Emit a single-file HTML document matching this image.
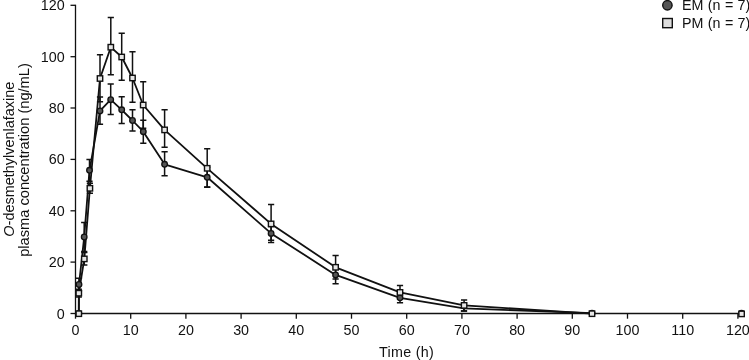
<!DOCTYPE html>
<html><head><meta charset="utf-8"><title>Plasma concentration</title>
<style>html,body{margin:0;padding:0;background:#fff;}svg{display:block;font-family:"Liberation Sans",Arial,Helvetica,sans-serif;font-size:14.3px;fill:#111;}</style></head><body>
<svg width="749" height="360" viewBox="0 0 749 360">
<rect width="749" height="360" fill="#fff"/>
<g stroke="#111" stroke-width="1.3" fill="none">
<path d="M75.5 4.7V313.5H738.5"/>
<path d="M70.5 313.5H75.5"/>
<path d="M70.5 262.1H75.5"/>
<path d="M70.5 210.8H75.5"/>
<path d="M70.5 159.4H75.5"/>
<path d="M70.5 108.0H75.5"/>
<path d="M70.5 56.7H75.5"/>
<path d="M70.5 5.3H75.5"/>
<path d="M75.5 313.5V318.7"/>
<path d="M130.7 313.5V318.7"/>
<path d="M185.9 313.5V318.7"/>
<path d="M241.1 313.5V318.7"/>
<path d="M296.3 313.5V318.7"/>
<path d="M351.5 313.5V318.7"/>
<path d="M406.7 313.5V318.7"/>
<path d="M461.9 313.5V318.7"/>
<path d="M517.1 313.5V318.7"/>
<path d="M572.3 313.5V318.7"/>
<path d="M627.5 313.5V318.7"/>
<path d="M682.7 313.5V318.7"/>
<path d="M737.9 313.5V318.7"/>
</g>
<g text-anchor="end">
<text x="64.6" y="318.5">0</text>
<text x="64.6" y="267.1">20</text>
<text x="64.6" y="215.8">40</text>
<text x="64.6" y="164.4">60</text>
<text x="64.6" y="113.0">80</text>
<text x="64.6" y="61.7">100</text>
<text x="64.6" y="10.3">120</text>
</g><g text-anchor="middle">
<text x="75.5" y="335.2">0</text>
<text x="130.7" y="335.2">10</text>
<text x="185.9" y="335.2">20</text>
<text x="241.1" y="335.2">30</text>
<text x="296.3" y="335.2">40</text>
<text x="351.5" y="335.2">50</text>
<text x="406.7" y="335.2">60</text>
<text x="461.9" y="335.2">70</text>
<text x="517.1" y="335.2">80</text>
<text x="572.3" y="335.2">90</text>
<text x="627.5" y="335.2">100</text>
<text x="682.7" y="335.2">110</text>
<text x="737.9" y="335.2">120</text>
<text x="406.6" y="356.8" letter-spacing="0.3">Time (h)</text>
</g>
<g text-anchor="middle">
<text transform="translate(13.6 159.2) rotate(-90)" font-size="14.45"><tspan font-style="italic">O</tspan>-desmethylvenlafaxine</text>
<text transform="translate(29.4 160) rotate(-90)" font-size="14.65">plasma concentration (ng/mL)</text>
</g>
<g stroke="#111" stroke-width="1.5" fill="none">
<path d="M78.8 289.2V297.0M75.7 289.2h6.2M75.7 297.0h6.2"/>
<path d="M84.3 252.6V265.0M81.2 252.6h6.2M81.2 265.0h6.2"/>
<path d="M89.9 183.3V193.3M86.8 183.3h6.2M86.8 193.3h6.2"/>
<path d="M100.0 54.7V101.8M96.9 54.7h6.2M96.9 101.8h6.2"/>
<path d="M110.8 17.6V74.7M107.7 17.6h6.2M107.7 74.7h6.2"/>
<path d="M121.7 33.3V80.3M118.6 33.3h6.2M118.6 80.3h6.2"/>
<path d="M132.5 51.8V102.2M129.4 51.8h6.2M129.4 102.2h6.2"/>
<path d="M143.2 81.7V128.3M140.1 81.7h6.2M140.1 128.3h6.2"/>
<path d="M164.6 109.7V147.3M161.5 109.7h6.2M161.5 147.3h6.2"/>
<path d="M207.2 148.8V187.0M204.1 148.8h6.2M204.1 187.0h6.2"/>
<path d="M271.1 204.6V242.6M268.0 204.6h6.2M268.0 242.6h6.2"/>
<path d="M335.6 255.6V279.0M332.5 255.6h6.2M332.5 279.0h6.2"/>
<path d="M400.0 285.6V299.0M396.9 285.6h6.2M396.9 299.0h6.2"/>
<path d="M464.1 300.1V310.9M461.0 300.1h6.2M461.0 310.9h6.2"/>
</g>
<g stroke="#111" stroke-width="1.5" fill="none">
<path d="M79.0 278.3V290.7M75.9 278.3h6.2M75.9 290.7h6.2"/>
<path d="M84.2 222.5V251.5M81.1 222.5h6.2M81.1 251.5h6.2"/>
<path d="M89.5 159.5V181.2M86.4 159.5h6.2M86.4 181.2h6.2"/>
<path d="M100.0 96.9V124.2M96.9 96.9h6.2M96.9 124.2h6.2"/>
<path d="M110.7 83.9V114.5M107.6 83.9h6.2M107.6 114.5h6.2"/>
<path d="M121.7 96.7V123.6M118.6 96.7h6.2M118.6 123.6h6.2"/>
<path d="M132.5 109.7V131.0M129.4 109.7h6.2M129.4 131.0h6.2"/>
<path d="M143.3 120.3V143.3M140.2 120.3h6.2M140.2 143.3h6.2"/>
<path d="M164.6 151.7V175.8M161.5 151.7h6.2M161.5 175.8h6.2"/>
<path d="M207.2 167.3V187.3M204.1 167.3h6.2M204.1 187.3h6.2"/>
<path d="M271.1 226.5V240.3M268.0 226.5h6.2M268.0 240.3h6.2"/>
<path d="M335.6 266.0V283.8M332.5 266.0h6.2M332.5 283.8h6.2"/>
<path d="M400.0 293.0V302.7M396.9 293.0h6.2M396.9 302.7h6.2"/>
<path d="M463.9 304.0V310.9M460.8 304.0h6.2M460.8 310.9h6.2"/>
</g>
<polyline fill="none" stroke="#111" stroke-width="1.8" stroke-linejoin="round" points="78.8,313.5 79.0,284.5 84.2,237.0 89.5,170.3 100.0,110.9 110.7,99.7 121.7,109.8 132.5,120.5 143.3,131.7 164.6,164.3 207.2,177.3 271.1,233.4 335.6,274.9 400.0,297.8 463.9,308.3 592.0,313.2"/>
<polyline fill="none" stroke="#111" stroke-width="1.8" stroke-linejoin="round" points="78.8,313.7 78.8,293.2 84.3,258.9 89.9,188.3 100.0,78.5 110.8,47.2 121.7,57.0 132.5,78.0 143.2,105.0 164.6,129.9 207.2,168.3 271.1,223.9 335.6,267.3 400.0,292.4 464.1,305.4 592.0,313.7"/>
<g fill="#555" stroke="#111" stroke-width="1.3">
<circle cx="78.8" cy="313.5" r="2.8"/>
<circle cx="79.0" cy="284.5" r="2.8"/>
<circle cx="84.2" cy="237.0" r="2.8"/>
<circle cx="89.5" cy="170.3" r="2.8"/>
<circle cx="100.0" cy="110.9" r="2.8"/>
<circle cx="110.7" cy="99.7" r="2.8"/>
<circle cx="121.7" cy="109.8" r="2.8"/>
<circle cx="132.5" cy="120.5" r="2.8"/>
<circle cx="143.3" cy="131.7" r="2.8"/>
<circle cx="164.6" cy="164.3" r="2.8"/>
<circle cx="207.2" cy="177.3" r="2.8"/>
<circle cx="271.1" cy="233.4" r="2.8"/>
<circle cx="335.6" cy="274.9" r="2.8"/>
<circle cx="400.0" cy="297.8" r="2.8"/>
<circle cx="592.0" cy="313.2" r="2.8"/>
<circle cx="741.5" cy="313.2" r="2.8"/>
</g>
<g fill="#e6e6e6" stroke="#111" stroke-width="1.4">
<rect x="76.1" y="311.0" width="5.4" height="5.4"/>
<rect x="76.1" y="290.5" width="5.4" height="5.4"/>
<rect x="81.6" y="256.2" width="5.4" height="5.4"/>
<rect x="87.2" y="185.6" width="5.4" height="5.4"/>
<rect x="97.3" y="75.8" width="5.4" height="5.4"/>
<rect x="108.1" y="44.5" width="5.4" height="5.4"/>
<rect x="119.0" y="54.3" width="5.4" height="5.4"/>
<rect x="129.8" y="75.3" width="5.4" height="5.4"/>
<rect x="140.5" y="102.3" width="5.4" height="5.4"/>
<rect x="161.9" y="127.2" width="5.4" height="5.4"/>
<rect x="204.5" y="165.6" width="5.4" height="5.4"/>
<rect x="268.4" y="221.2" width="5.4" height="5.4"/>
<rect x="332.9" y="264.6" width="5.4" height="5.4"/>
<rect x="397.3" y="289.7" width="5.4" height="5.4"/>
<rect x="461.4" y="302.7" width="5.4" height="5.4"/>
<rect x="589.3" y="311.0" width="5.4" height="5.4"/>
<rect x="738.9" y="311.2" width="5.4" height="5.4"/>
</g>
<circle cx="667.4" cy="5.3" r="4.7" fill="#555" stroke="#111" stroke-width="1.4"/>
<rect x="662.7" y="18.5" width="9.6" height="9.2" fill="#ddd" stroke="#111" stroke-width="1.4"/>
<g word-spacing="0.4">
<text x="682" y="10.3">EM (n = 7)</text>
<text x="682" y="28.4">PM (n = 7)</text>
</g>
</svg></body></html>
